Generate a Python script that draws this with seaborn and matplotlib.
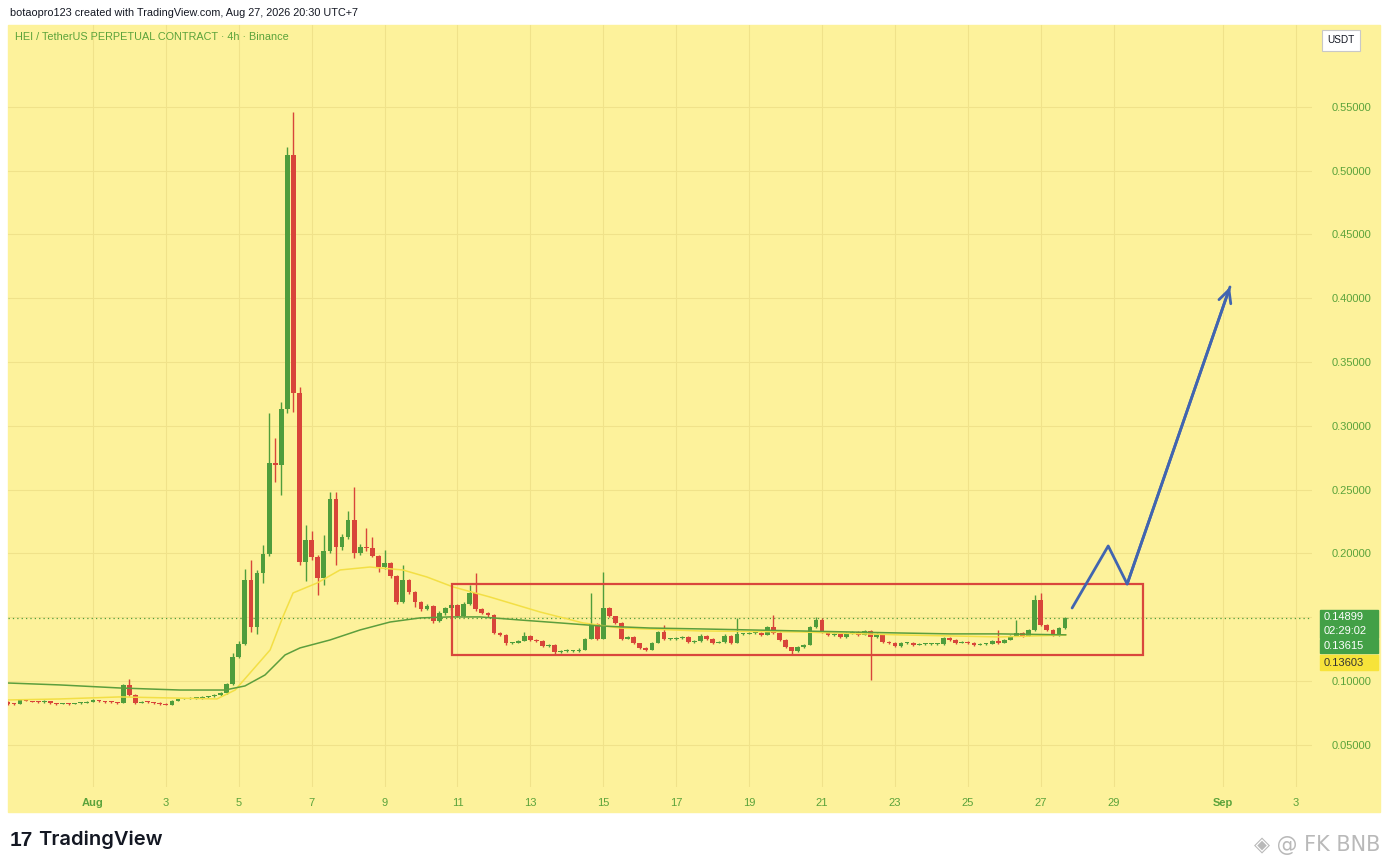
import matplotlib
matplotlib.use("Agg")
import matplotlib.pyplot as plt
import matplotlib.dates as mdates
from matplotlib.patches import Rectangle
import numpy as np
import pandas as pd
import seaborn as sns

#%% data (4h candles, UTC+7)
first_time = '2026-07-29 16:00'
first_open = 0.0836
closes = [0.0822, 0.0820, 0.0851, 0.0843, 0.0836, 0.0832, 0.0840, 0.0828, 0.0822, 0.0824,
          0.0818, 0.0824, 0.0828, 0.0836, 0.0847, 0.0840, 0.0836, 0.0832, 0.0828, 0.0969,
          0.0890, 0.0828, 0.0836, 0.0832, 0.0828, 0.0820, 0.0815, 0.0843, 0.0859, 0.0862,
          0.0866, 0.0866, 0.0875, 0.0882, 0.0890, 0.0906, 0.0976, 0.1188, 0.1290, 0.1792,
          0.1423, 0.1846, 0.1995, 0.2708, 0.2693, 0.3132, 0.5122, 0.3257, 0.1933, 0.2105,
          0.1972, 0.1807, 0.2019, 0.2426, 0.2050, 0.2129, 0.2262, 0.2003, 0.2050, 0.2042,
          0.1980, 0.1893, 0.1925, 0.1823, 0.1619, 0.1792, 0.1697, 0.1619, 0.1564, 0.1588,
          0.1470, 0.1533, 0.1572, 0.1596, 0.1509, 0.1603, 0.1690, 0.1564, 0.1533, 0.1517,
          0.1376, 0.1361, 0.1298, 0.1298, 0.1313, 0.1353, 0.1321, 0.1313, 0.1274, 0.1282,
          0.1227, 0.1235, 0.1235, 0.1235, 0.1243, 0.1329, 0.1447, 0.1329, 0.1572, 0.1509,
          0.1455, 0.1329, 0.1345, 0.1298, 0.1259, 0.1243, 0.1298, 0.1384, 0.1329, 0.1329,
          0.1337, 0.1345, 0.1306, 0.1313, 0.1353, 0.1329, 0.1298, 0.1306, 0.1353, 0.1298,
          0.1369, 0.1369, 0.1376, 0.1376, 0.1361, 0.1423, 0.1376, 0.1321, 0.1266, 0.1235,
          0.1266, 0.1282, 0.1423, 0.1478, 0.1384, 0.1361, 0.1369, 0.1345, 0.1376, 0.1384,
          0.1361, 0.1392, 0.1345, 0.1369, 0.1306, 0.1298, 0.1274, 0.1298, 0.1298, 0.1282,
          0.1290, 0.1290, 0.1290, 0.1290, 0.1337, 0.1321, 0.1298, 0.1306, 0.1298, 0.1282,
          0.1290, 0.1290, 0.1313, 0.1298, 0.1321, 0.1353, 0.1376, 0.1353, 0.1400, 0.1635,
          0.1439, 0.1400, 0.1361, 0.1415, 0.14899]
highs = [0.0840, 0.0828, 0.0858, 0.0855, 0.0845, 0.0840, 0.0847, 0.0843, 0.0830, 0.0830,
         0.0828, 0.0830, 0.0832, 0.0840, 0.0855, 0.0851, 0.0843, 0.0840, 0.0836, 0.0980,
         0.1016, 0.0895, 0.0843, 0.0840, 0.0836, 0.0832, 0.0826, 0.0847, 0.0862, 0.0870,
         0.0875, 0.0872, 0.0880, 0.0886, 0.0894, 0.0910, 0.0985, 0.1220, 0.1310, 0.1878,
         0.1948, 0.1870, 0.2066, 0.3100, 0.2904, 0.3187, 0.5185, 0.5459, 0.3300, 0.2223,
         0.2176, 0.1990, 0.2144, 0.2481, 0.2481, 0.2150, 0.2332, 0.2520, 0.2070, 0.2199,
         0.2129, 0.1990, 0.2027, 0.1935, 0.1830, 0.1909, 0.1800, 0.1705, 0.1625, 0.1600,
         0.1595, 0.1545, 0.1580, 0.1610, 0.1605, 0.1615, 0.1752, 0.1846, 0.1570, 0.1540,
         0.1525, 0.1380, 0.1365, 0.1305, 0.1320, 0.1384, 0.1358, 0.1325, 0.1318, 0.1290,
         0.1286, 0.1245, 0.1250, 0.1245, 0.1255, 0.1335, 0.1690, 0.1455, 0.1854, 0.1580,
         0.1512, 0.1460, 0.1355, 0.1350, 0.1300, 0.1265, 0.1305, 0.1395, 0.1439, 0.1340,
         0.1345, 0.1355, 0.1350, 0.1320, 0.1365, 0.1360, 0.1335, 0.1315, 0.1365, 0.1360,
         0.1494, 0.1378, 0.1385, 0.1384, 0.1380, 0.1430, 0.1517, 0.1380, 0.1325, 0.1270,
         0.1272, 0.1290, 0.1430, 0.1500, 0.1490, 0.1390, 0.1376, 0.1372, 0.1382, 0.1390,
         0.1390, 0.1398, 0.1398, 0.1376, 0.1372, 0.1310, 0.1302, 0.1304, 0.1305, 0.1302,
         0.1296, 0.1298, 0.1300, 0.1296, 0.1345, 0.1345, 0.1325, 0.1312, 0.1310, 0.1302,
         0.1296, 0.1296, 0.1318, 0.1400, 0.1328, 0.1360, 0.1478, 0.1385, 0.1408, 0.1674,
         0.1690, 0.1445, 0.1405, 0.1420, 0.1500]
lows = [0.0815, 0.0812, 0.0818, 0.0840, 0.0832, 0.0828, 0.0828, 0.0822, 0.0812, 0.0818,
        0.0812, 0.0816, 0.0820, 0.0826, 0.0832, 0.0834, 0.0830, 0.0826, 0.0822, 0.0826,
        0.0885, 0.0822, 0.0826, 0.0826, 0.0818, 0.0815, 0.0808, 0.0812, 0.0840, 0.0855,
        0.0858, 0.0860, 0.0862, 0.0870, 0.0878, 0.0886, 0.0900, 0.0970, 0.1180, 0.1280,
        0.1384, 0.1368, 0.1768, 0.1980, 0.2560, 0.2458, 0.3100, 0.3108, 0.1909, 0.1784,
        0.1950, 0.1674, 0.1752, 0.2000, 0.1909, 0.2030, 0.2110, 0.1964, 0.1990, 0.2020,
        0.1970, 0.1854, 0.1880, 0.1810, 0.1600, 0.1610, 0.1680, 0.1580, 0.1550, 0.1555,
        0.1455, 0.1460, 0.1520, 0.1560, 0.1500, 0.1500, 0.1595, 0.1550, 0.1525, 0.1505,
        0.1365, 0.1350, 0.1285, 0.1290, 0.1295, 0.1310, 0.1315, 0.1305, 0.1265, 0.1268,
        0.1215, 0.1222, 0.1225, 0.1228, 0.1230, 0.1240, 0.1325, 0.1320, 0.1325, 0.1500,
        0.1445, 0.1320, 0.1325, 0.1290, 0.1250, 0.1235, 0.1240, 0.1295, 0.1320, 0.1318,
        0.1322, 0.1330, 0.1298, 0.1300, 0.1305, 0.1322, 0.1290, 0.1295, 0.1300, 0.1290,
        0.1295, 0.1360, 0.1365, 0.1368, 0.1355, 0.1358, 0.1370, 0.1315, 0.1258, 0.1212,
        0.1228, 0.1260, 0.1278, 0.1418, 0.1378, 0.1355, 0.1355, 0.1338, 0.1340, 0.1370,
        0.1355, 0.1358, 0.1008, 0.1340, 0.1300, 0.1290, 0.1268, 0.1270, 0.1290, 0.1276,
        0.1280, 0.1282, 0.1282, 0.1280, 0.1285, 0.1315, 0.1292, 0.1294, 0.1292, 0.1276,
        0.1278, 0.1282, 0.1286, 0.1292, 0.1294, 0.1318, 0.1350, 0.1345, 0.1350, 0.1395,
        0.1430, 0.1392, 0.1352, 0.1355, 0.1410]

# moving averages (days from Aug 1, price)
ma_green_days = [-2.33, -0.91, 0.74, 2.39, 3.62, 4.17, 4.72, 5.27, 5.68, 6.50, 7.33, 8.15,
                 8.97, 9.79, 10.62, 11.71, 12.81, 13.91, 15.28, 16.65, 18.02, 19.40, 20.77,
                 22.14, 23.51, 24.88, 26.69]
ma_green = [0.0984, 0.0969, 0.0945, 0.0929, 0.0929, 0.0961, 0.1047, 0.1204, 0.1259, 0.1321,
            0.1400, 0.1462, 0.1494, 0.1502, 0.1502, 0.1478, 0.1455, 0.1431, 0.1415, 0.1408,
            0.1400, 0.1392, 0.1384, 0.1376, 0.1369, 0.1369, 0.13615]
ma_yellow_days = [-2.33, -0.91, 0.74, 2.11, 3.40, 3.90, 4.31, 4.86, 5.21, 5.49, 6.15, 6.78,
                  7.60, 8.50, 9.16, 9.88, 10.89, 12.26, 13.44, 14.45, 16.65, 19.40, 22.14,
                  24.88, 26.69]
ma_yellow = [0.0851, 0.0859, 0.0875, 0.0867, 0.0859, 0.0929, 0.1063, 0.1243, 0.1502, 0.1690,
             0.1768, 0.1870, 0.1893, 0.1870, 0.1815, 0.1737, 0.1658, 0.1541, 0.1455, 0.1415,
             0.1392, 0.1384, 0.1361, 0.1345, 0.13603]

# drawings
box_days = [9.85, 28.81]
box_prices = [0.1204, 0.1760]
arrow_days = [26.86, 27.85, 28.37, 31.19]
arrow_prices = [0.1572, 0.2058, 0.1760, 0.4088]

price_ticks = [0.05, 0.10, 0.15, 0.20, 0.25, 0.30, 0.35, 0.40, 0.45, 0.50, 0.55]
date_ticks = ['2026-08-01', '2026-08-03', '2026-08-05', '2026-08-07', '2026-08-09',
              '2026-08-11', '2026-08-13', '2026-08-15', '2026-08-17', '2026-08-19',
              '2026-08-21', '2026-08-23', '2026-08-25', '2026-08-27', '2026-08-29',
              '2026-09-01', '2026-09-03']
date_labels = ['Aug', '3', '5', '7', '9', '11', '13', '15', '17', '19', '21', '23', '25',
               '27', '29', 'Sep', '3']

last_price = 0.14899
countdown = '02:29:02'
ma_green_last = 0.13615
ma_yellow_last = 0.13603

#%% styling
sns.set_style('white')
plt.rcParams['font.family'] = ['Liberation Sans', 'DejaVu Sans']

bg = '#fdf29b'
grid_c = '#f0e28a'
up_c = '#4f9d3c'
down_c = '#d8453a'
txt_green = '#5ba33b'

W, H = 1389, 868
fig = plt.figure(figsize=(W / 100, H / 100), dpi=100)
fig.patch.set_facecolor('white')
fig.patches.append(Rectangle((8 / W, 1 - 812 / H), 1372 / W, 787 / H,
                             transform=fig.transFigure, color=bg, zorder=-2))
ax = fig.add_axes([8 / W, 1 - 787 / H, 1304 / W, 762 / H])
ax.set_facecolor(bg)
for s in ax.spines.values():
    s.set_visible(False)

aug1 = mdates.date2num(pd.Timestamp('2026-08-01'))
times = pd.date_range(first_time, periods=len(closes), freq='4h')
t = mdates.date2num(times)
c = np.array(closes)
o = np.array([first_open] + closes[:-1])
colors = np.where(c >= o, up_c, down_c)

# candles
ax.vlines(t, lows, highs, colors=colors, lw=1, zorder=3)
body = np.maximum(np.abs(c - o), 0.0008)
ax.bar(t, body, bottom=np.minimum(o, c), width=0.13, color=colors, linewidth=0,
       edgecolor='none', zorder=4)

# moving averages
sns.lineplot(x=aug1 + np.array(ma_yellow_days), y=ma_yellow, ax=ax, color='#f3df45',
             lw=1.1, zorder=5)
sns.lineplot(x=aug1 + np.array(ma_green_days), y=ma_green, ax=ax, color='#5c9e3d',
             lw=1.1, zorder=5)

# last price dotted line
ax.axhline(last_price, color=up_c, ls=(0, (1, 2.5)), lw=0.9, zorder=2)

# range box
ax.add_patch(Rectangle((aug1 + box_days[0], box_prices[0]), box_days[1] - box_days[0],
                       box_prices[1] - box_prices[0], fill=False, ec='#d9473c', lw=1.6,
                       zorder=6))

# projection arrow
ad = aug1 + np.array(arrow_days)
sns.lineplot(x=ad, y=arrow_prices, ax=ax, sort=False, color='#4165b0', lw=2, zorder=7)
ax.annotate('', xy=(ad[-1], arrow_prices[-1]), xytext=(ad[-2], arrow_prices[-2]),
            arrowprops=dict(arrowstyle='->,head_length=0.9,head_width=0.45',
                            color='#4165b0', lw=2, shrinkA=0, shrinkB=0), zorder=7)

# axes
ax.set_xlim(aug1 - 2.33, aug1 + 33.44)
ax.set_ylim(0.0169, 0.6141)
ax.set_xticks(mdates.date2num(pd.to_datetime(date_ticks)))
ax.set_xticklabels(date_labels)
for lab in ax.get_xticklabels():
    if lab.get_text() in ('Aug', 'Sep'):
        lab.set_fontweight('bold')
ax.yaxis.tick_right()
ax.set_yticks(price_ticks)
# the 0.15 label sits under the last-price tag
ax.set_yticklabels(['' if abs(p - last_price) < 0.01 else f'{p:.5f}' for p in price_ticks])
ax.tick_params(axis='x', length=0, pad=8, labelsize=8, labelcolor=txt_green)
ax.tick_params(axis='y', length=0, pad=14, labelsize=8, labelcolor=txt_green)
ax.grid(True, color=grid_c, lw=0.8)
ax.set_axisbelow(True)
ax.set_xlabel('')
ax.set_ylabel('')

# price scale labels
tr = ax.transAxes
def fy(py):
    return 1 - (py - 25) / 762
x0, x1 = (1320 - 8) / 1304, (1378 - 8) / 1304
ax.add_patch(Rectangle((x0, fy(638)), x1 - x0, fy(610) - fy(638), transform=tr,
                       color='#43a047', clip_on=False, zorder=10))
ax.text(x0 + 0.003, fy(617.5), f'{last_price:.5f}', transform=tr, color='white',
        fontsize=8, va='center', zorder=11)
ax.text(x0 + 0.003, fy(631), countdown, transform=tr, color='white', fontsize=8,
        va='center', zorder=11)
ax.add_patch(Rectangle((x0, fy(653)), x1 - x0, fy(639) - fy(653), transform=tr,
                       color='#43a047', clip_on=False, zorder=10))
ax.text(x0 + 0.003, fy(646), f'{ma_green_last:.5f}', transform=tr, color='white',
        fontsize=8, va='center', zorder=11)
ax.add_patch(Rectangle((x0, fy(670)), x1 - x0, fy(655) - fy(670), transform=tr,
                       color='#f7e33a', clip_on=False, zorder=10))
ax.text(x0 + 0.003, fy(662.5), f'{ma_yellow_last:.5f}', transform=tr, color='#333333',
        fontsize=8, va='center', zorder=11)

# header and pane texts
fig.text(10 / W, 1 - 13 / H, 'botaopro123 created with TradingView.com, Aug 27, 2026 20:30 UTC+7',
         fontsize=7.8, color='#131722', va='center')
fig.text(15 / W, 1 - 37 / H, 'HEI / TetherUS PERPETUAL CONTRACT \u00b7 4h \u00b7 Binance',
         fontsize=7.8, color=txt_green, va='center')
fig.text(1341 / W, 1 - 40 / H, 'USDT', fontsize=7.2, color='#131722', va='center',
         ha='center', bbox=dict(boxstyle='square,pad=0.55', fc='white', ec='#c8c8c8', lw=0.8))

# footer
fig.text(10 / W, 1 - 840 / H, '17', fontsize=15, fontweight='heavy', color='#131722',
         va='center')
fig.text(38 / W, 1 - 840 / H, 'TradingView', fontsize=14.5, fontweight='semibold',
         color='#131722', va='center', family=['Inter', 'DejaVu Sans'])
fig.text(1380 / W, 1 - 845 / H, '\u25c8 @ FK BNB', fontsize=15, color='#b9b9b9',
         va='center', ha='right', family=['DejaVu Sans'])

fig.savefig('out.png', dpi=100, facecolor=fig.get_facecolor())
